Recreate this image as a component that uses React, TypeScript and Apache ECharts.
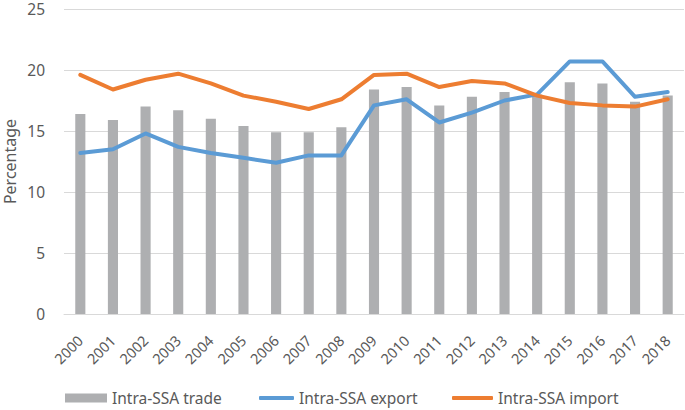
import React, { useEffect, useRef } from "react";
import * as echarts from "echarts";

const years = ["2000","2001","2002","2003","2004","2005","2006","2007","2008","2009","2010","2011","2012","2013","2014","2015","2016","2017","2018"];
const tradeValues = [16.4, 15.9, 17.0, 16.7, 16.0, 15.4, 14.9, 14.9, 15.3, 18.4, 18.6, 17.1, 17.8, 18.2, 18.0, 19.0, 18.9, 17.4, 17.9];
const exportValues = [13.2, 13.5, 14.8, 13.7, 13.2, 12.8, 12.4, 13.0, 13.0, 17.1, 17.6, 15.7, 16.5, 17.5, 18.0, 20.7, 20.7, 17.8, 18.2];
const importValues = [19.6, 18.4, 19.2, 19.7, 18.9, 17.9, 17.4, 16.8, 17.6, 19.6, 19.7, 18.6, 19.1, 18.9, 17.9, 17.3, 17.1, 17.0, 17.6];
const yTicks = { min: 0, max: 25, interval: 5 };

const FONT = "'Noto Sans', sans-serif";
const TXT = "#595959";

export default function App() {
  const ref = useRef<HTMLDivElement>(null);
  useEffect(() => {
    if (!ref.current) return;
    const chart = echarts.init(ref.current, null, { renderer: "svg" });
    const legendText = { color: TXT, fontSize: 15.5, fontFamily: FONT, lineHeight: 18 };
    chart.setOption({
      animation: false,
      backgroundColor: "#ffffff",
      grid: { left: 64, right: 1, top: 9, bottom: 96, containLabel: false, outerBoundsMode: "none" },
      xAxis: {
        type: "category",
        data: years,
        axisLine: { show: true, lineStyle: { color: "#d9d9d9", width: 1 } },
        axisTick: { show: false },
        axisLabel: { rotate: 45, color: TXT, fontSize: 14.5, fontFamily: FONT, margin: 24, interval: 0 },
      },
      yAxis: {
        type: "value",
        min: yTicks.min,
        max: yTicks.max,
        interval: yTicks.interval,
        name: "Percentage",
        nameLocation: "middle",
        nameGap: 45,
        nameMoveOverlap: false,
        nameTextStyle: { color: TXT, fontSize: 16, fontFamily: FONT, lineHeight: 18 },
        axisLine: { show: false },
        axisTick: { show: false },
        axisLabel: { color: TXT, fontSize: 15.5, fontFamily: FONT, margin: 19, lineHeight: 12 },
        splitLine: { lineStyle: { color: "#d9d9d9", width: 1 } },
      },
      legend: [
        {
          data: [{ name: "Intra-SSA trade", icon: "rect" }],
          left: 65, top: 389, padding: 0,
          itemWidth: 42, itemHeight: 9,
          textStyle: legendText,
        },
        {
          data: [{ name: "Intra-SSA export", icon: "roundRect" }],
          left: 259, top: 389, padding: 0,
          itemWidth: 35, itemHeight: 4,
          textStyle: legendText,
        },
        {
          data: [{ name: "Intra-SSA import", icon: "roundRect" }],
          left: 452, top: 389, padding: 0,
          itemWidth: 41, itemHeight: 4,
          textStyle: legendText,
        },
      ],
      series: [
        {
          name: "Intra-SSA trade",
          type: "bar",
          data: tradeValues,
          barWidth: "31%",
          itemStyle: { color: "#AEAFB1" },
        },
        {
          name: "Intra-SSA export",
          type: "line",
          data: exportValues,
          symbol: "none",
          lineStyle: { color: "#5B9BD5", width: 4, cap: "round", join: "round" },
          itemStyle: { color: "#5B9BD5" },
        },
        {
          name: "Intra-SSA import",
          type: "line",
          data: importValues,
          symbol: "none",
          lineStyle: { color: "#ED7D31", width: 4, cap: "round", join: "round" },
          itemStyle: { color: "#ED7D31" },
        },
      ],
    });
    return () => chart.dispose();
  }, []);
  return <div ref={ref} style={{ position: "fixed", left: 0, top: 0, width: 685, height: 410 }} />;
}
